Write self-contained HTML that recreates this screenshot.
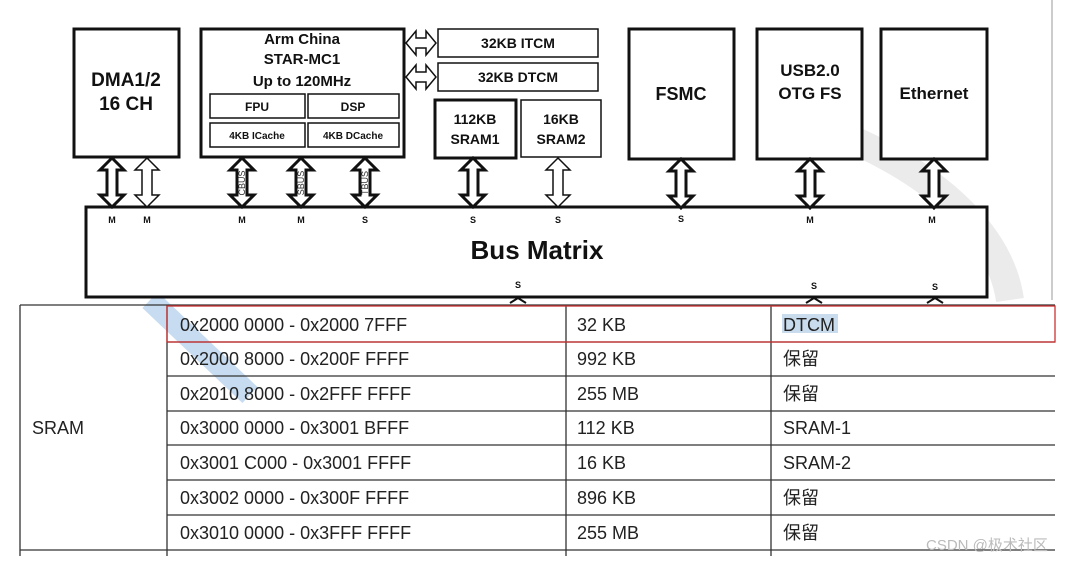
<!DOCTYPE html>
<html><head><meta charset="utf-8"><style>
html,body{margin:0;padding:0;background:#fff;}
svg{display:block;}
.b{font-family:"Liberation Sans",Arial,sans-serif;font-weight:bold;fill:#111;}
.t{font-family:"Liberation Sans","Noto Sans CJK SC",sans-serif;font-size:18px;fill:#222;}
</style></head><body>
<svg width="1078" height="562" viewBox="0 0 1078 562" xmlns="http://www.w3.org/2000/svg">
<defs>
<path id="va" d="M0,0 L12,12 L5,12 L5,37 L12,37 L0,49 L-12,37 L-5,37 L-5,12 L-12,12 Z"/>
<path id="ha" d="M0,0 L10,-12 L10,-5 L20,-5 L20,-12 L30,0 L20,12 L20,5 L10,5 L10,12 Z"/>
</defs>
<path d="M830,130 C930,170 1000,230 1010,300" stroke="#ebebeb" stroke-width="28" fill="none"/>
<path d="M150,300 L250,395" stroke="#b9d3ee" stroke-width="22" fill="none" opacity="0.8"/>
<line x1="1052" y1="0" x2="1052" y2="300" stroke="#999" stroke-width="1"/>

<g fill="#fff" stroke="#111" stroke-width="3">
<rect x="74" y="29" width="105" height="128"/>
<rect x="201" y="29" width="203" height="128"/>
<rect x="435" y="100" width="81" height="58"/>
<rect x="629" y="29" width="105" height="130"/>
<rect x="757" y="29" width="105" height="130"/>
<rect x="881" y="29" width="106" height="130"/>
<rect x="86" y="207" width="901" height="90"/>
</g>
<g fill="#fff" stroke="#111" stroke-width="1.5">
<rect x="210" y="94" width="95" height="24"/>
<rect x="308" y="94" width="91" height="24"/>
<rect x="210" y="123" width="95" height="24"/>
<rect x="308" y="123" width="91" height="24"/>
<rect x="438" y="29" width="160" height="28"/>
<rect x="438" y="63" width="160" height="28"/>
<rect x="521" y="100" width="80" height="57"/>
</g>
<g fill="#fff" stroke="#111" stroke-width="3">
<use href="#va" x="112" y="158"/>
<use href="#va" x="242" y="158"/>
<use href="#va" x="301" y="158"/>
<use href="#va" x="365" y="158"/>
<use href="#va" x="473" y="158"/>
<use href="#va" x="681" y="159"/>
<use href="#va" x="810" y="159"/>
<use href="#va" x="934" y="159"/>
</g>
<g fill="#fff" stroke="#111" stroke-width="1.5">
<use href="#va" x="147" y="158"/>
<use href="#va" x="558" y="158"/>
<use href="#ha" x="406" y="43"/>
<use href="#ha" x="406" y="77"/>
</g>
<g font-family="Liberation Sans,sans-serif" font-size="9" fill="#333" text-anchor="middle">
<text transform="translate(245,183) rotate(-90)">CBUS</text>
<text transform="translate(304,183) rotate(-90)">SBUS</text>
<text transform="translate(368,183) rotate(-90)">TBUS</text>
</g>
<g class="b" text-anchor="middle">
<text x="126" y="86" font-size="19">DMA1/2</text>
<text x="126" y="110" font-size="19">16 CH</text>
<text x="302" y="44" font-size="15">Arm China</text>
<text x="302" y="64" font-size="15">STAR-MC1</text>
<text x="302" y="86" font-size="15">Up to 120MHz</text>
<text x="257" y="111" font-size="12">FPU</text>
<text x="353" y="111" font-size="12">DSP</text>
<text x="257" y="139" font-size="10">4KB ICache</text>
<text x="353" y="139" font-size="10">4KB DCache</text>
<text x="518" y="48" font-size="14">32KB ITCM</text>
<text x="518" y="82" font-size="14">32KB DTCM</text>
<text x="475" y="124" font-size="14">112KB</text>
<text x="475" y="144" font-size="14">SRAM1</text>
<text x="561" y="124" font-size="14">16KB</text>
<text x="561" y="144" font-size="14">SRAM2</text>
<text x="681" y="100" font-size="18">FSMC</text>
<text x="810" y="76" font-size="17">USB2.0</text>
<text x="810" y="99" font-size="17">OTG FS</text>
<text x="934" y="99" font-size="17">Ethernet</text>
<text x="537" y="259" font-size="26">Bus Matrix</text>
<g font-size="9">
<text x="112" y="223">M</text><text x="147" y="223">M</text>
<text x="242" y="223">M</text><text x="301" y="223">M</text>
<text x="365" y="223">S</text><text x="473" y="223">S</text>
<text x="558" y="223">S</text><text x="681" y="222">S</text>
<text x="810" y="223">M</text><text x="932" y="223">M</text>
<text x="518" y="288">S</text><text x="814" y="289">S</text><text x="935" y="290">S</text>
</g>
</g>
<g stroke="#111" stroke-width="2" fill="none">
<polyline points="510,303 518,298 526,303"/>
<polyline points="806,303 814,298 822,303"/>
<polyline points="927,303 935,298 943,303"/>
</g>
<g stroke="#333" stroke-width="1.3">
<line x1="20" y1="305" x2="1055" y2="305"/>
<line x1="167" y1="342" x2="1055" y2="342"/>
<line x1="167" y1="376" x2="1055" y2="376"/>
<line x1="167" y1="411" x2="1055" y2="411"/>
<line x1="167" y1="445" x2="1055" y2="445"/>
<line x1="167" y1="480" x2="1055" y2="480"/>
<line x1="167" y1="515" x2="1055" y2="515"/>
<line x1="20" y1="550" x2="1055" y2="550"/>
<line x1="20" y1="305" x2="20" y2="556"/>
<line x1="167" y1="305" x2="167" y2="556"/>
<line x1="566" y1="305" x2="566" y2="556"/>
<line x1="771" y1="305" x2="771" y2="556"/>
</g>
<rect x="167" y="306" width="888" height="36" fill="none" stroke="#c33" stroke-width="1.3"/>
<rect x="782" y="314" width="56" height="19" fill="#c9dcee"/>
<g class="t">
<text x="32" y="434">SRAM</text>
<text x="180" y="331">0x2000 0000 - 0x2000 7FFF</text>
<text x="180" y="365">0x2000 8000 - 0x200F FFFF</text>
<text x="180" y="400">0x2010 8000 - 0x2FFF FFFF</text>
<text x="180" y="434">0x3000 0000 - 0x3001 BFFF</text>
<text x="180" y="469">0x3001 C000 - 0x3001 FFFF</text>
<text x="180" y="504">0x3002 0000 - 0x300F FFFF</text>
<text x="180" y="539">0x3010 0000 - 0x3FFF FFFF</text>
<text x="577" y="331">32 KB</text>
<text x="577" y="365">992 KB</text>
<text x="577" y="400">255 MB</text>
<text x="577" y="434">112 KB</text>
<text x="577" y="469">16 KB</text>
<text x="577" y="504">896 KB</text>
<text x="577" y="539">255 MB</text>
<text x="783" y="331">DTCM</text>
<text x="783" y="365">保留</text>
<text x="783" y="400">保留</text>
<text x="783" y="434">SRAM-1</text>
<text x="783" y="469">SRAM-2</text>
<text x="783" y="504">保留</text>
<text x="783" y="539">保留</text>
</g>
<text x="926" y="550" font-family="Liberation Sans,'Noto Sans CJK SC',sans-serif" font-size="15" fill="#bbb">CSDN @极术社区</text>
</svg>
</body></html>
